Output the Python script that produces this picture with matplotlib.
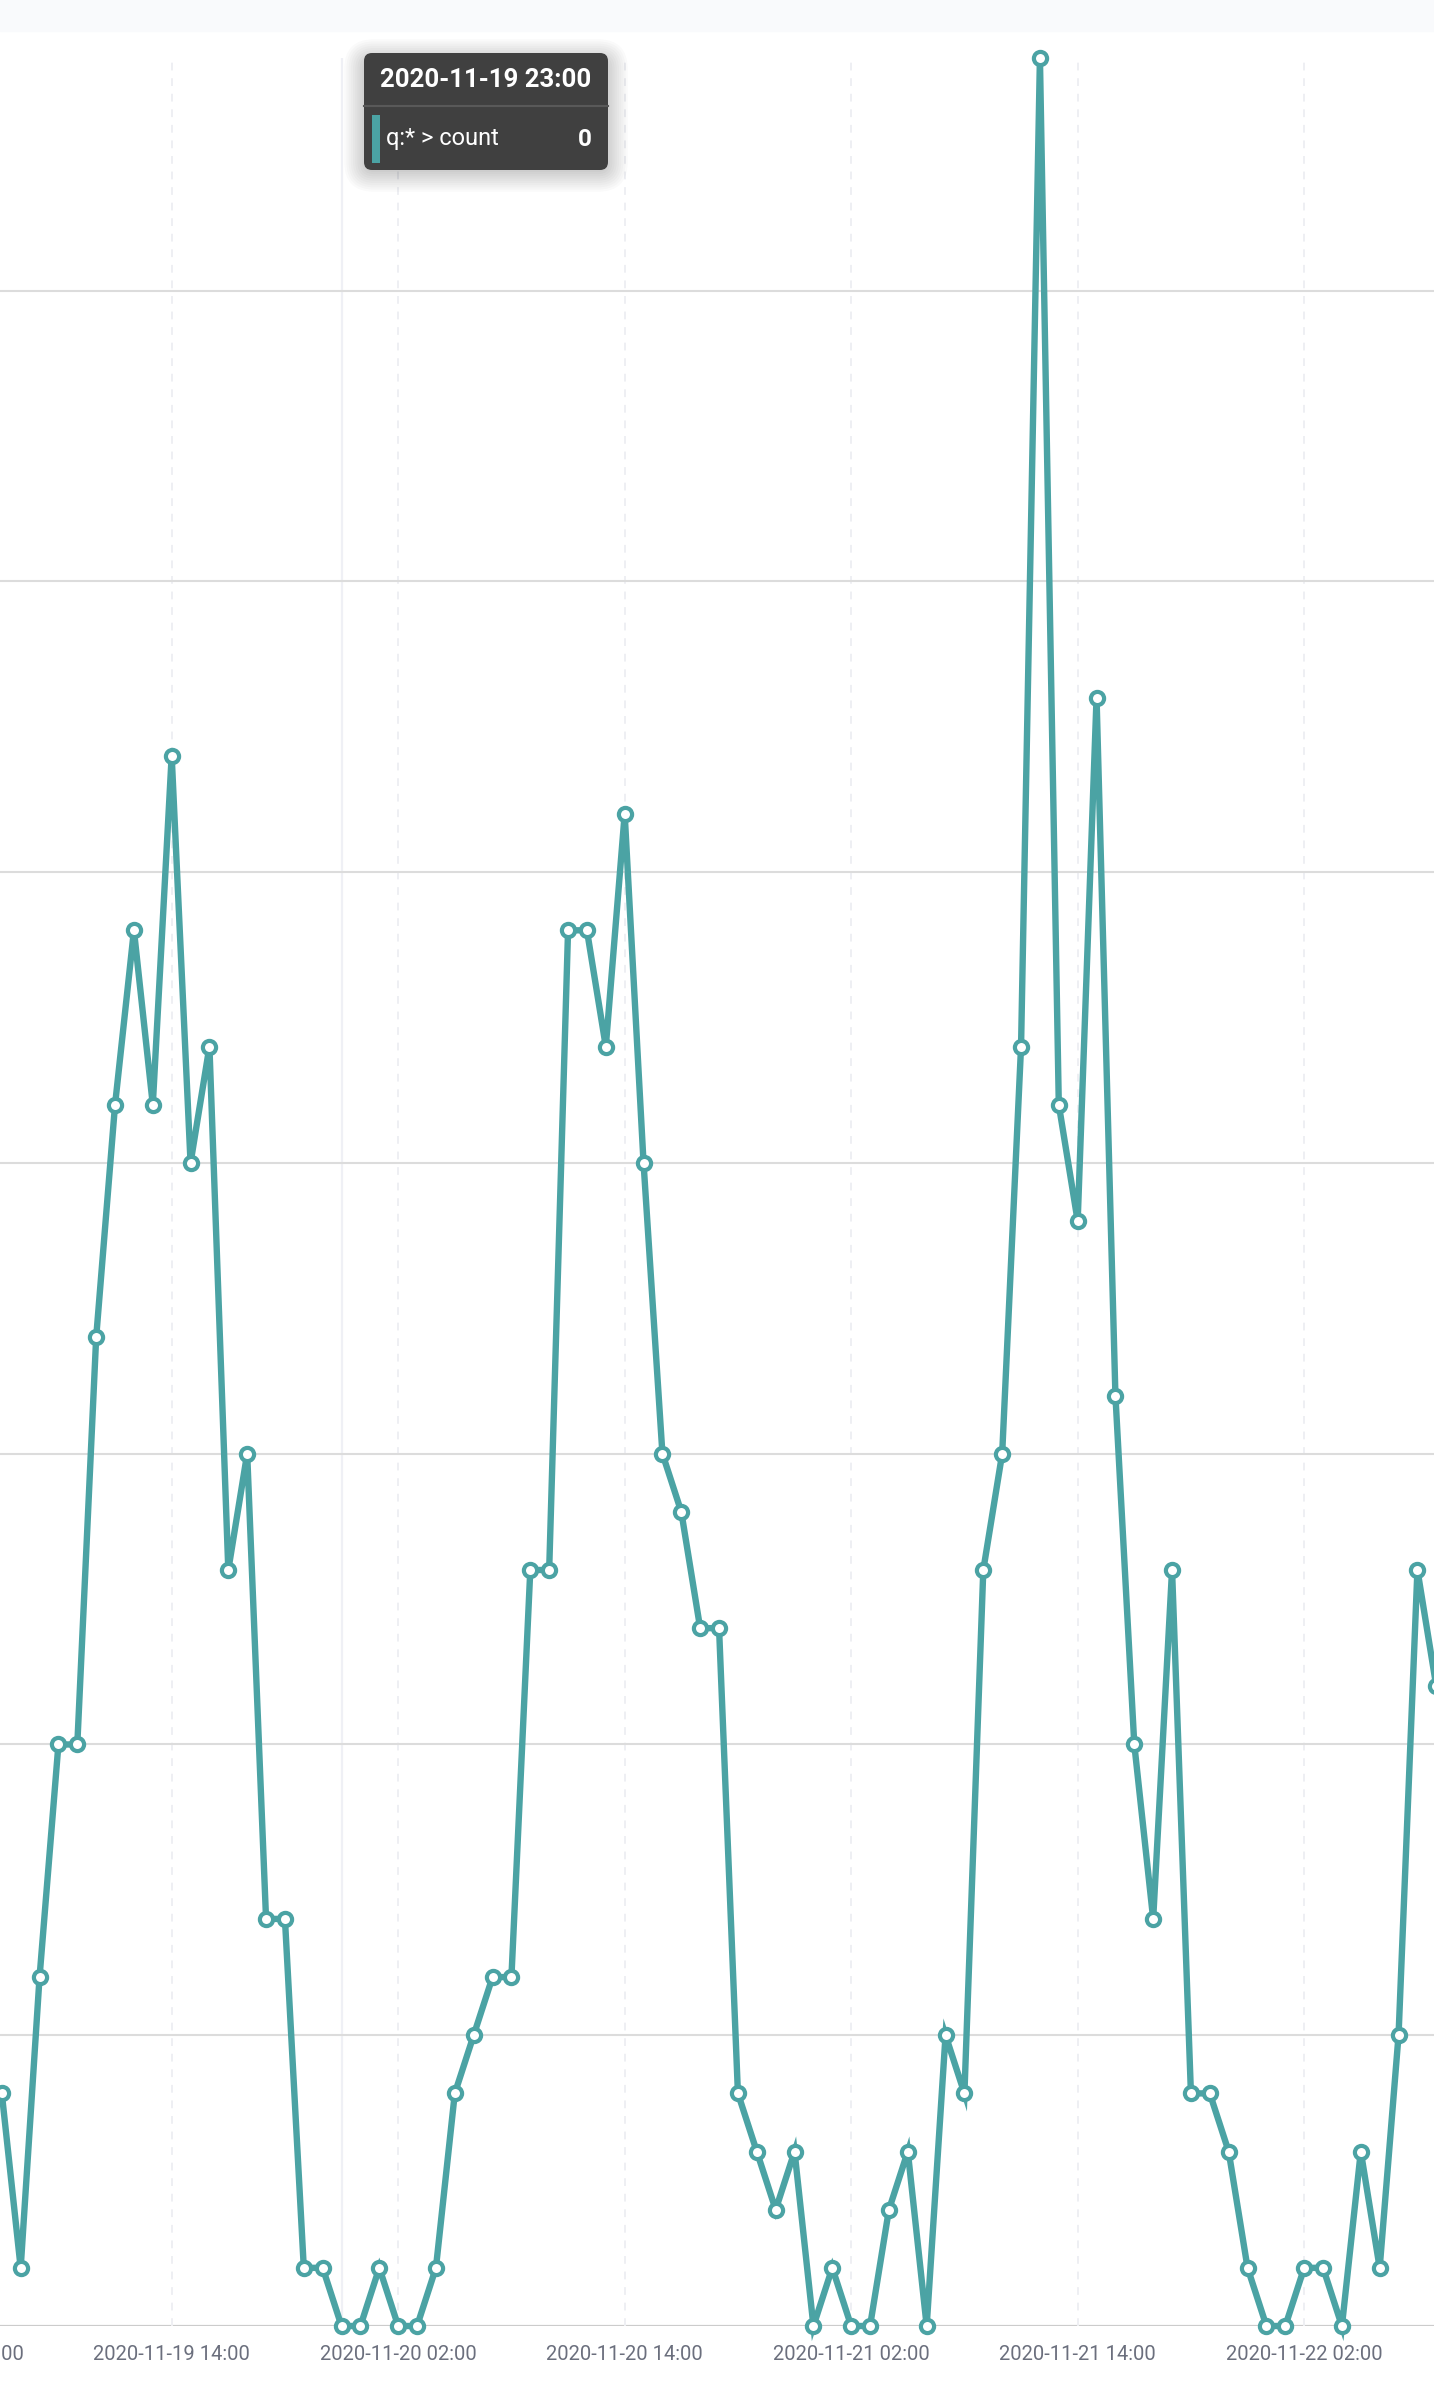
import pandas as pd
import matplotlib
matplotlib.use('Agg')
import matplotlib.pyplot as plt
import matplotlib.dates as mdates
from matplotlib.patches import FancyBboxPatch, Rectangle
from matplotlib.transforms import Affine2D

plt.rcParams['font.family'] = ['Roboto', 'DejaVu Sans']

# hourly counts, starting 2020-11-19 05:00
start = '2020-11-19 05:00'
counts = [4, 1, 6, 10, 10, 17, 21, 24, 21, 27, 20, 22, 13, 15, 7,
          7, 1, 1, 0, 0, 1, 0, 0, 1, 4, 5, 6, 6, 13, 13,
          24, 24, 22, 26, 20, 15, 14, 12, 12, 4, 3, 2, 3, 0, 1,
          0, 0, 2, 3, 0, 5, 4, 13, 15, 22, 39, 21, 19, 28, 16,
          10, 7, 13, 4, 4, 3, 1, 0, 0, 1, 1, 0, 3, 1, 5, 13, 11]
times = pd.date_range(start, periods=len(counts), freq='h')
series_name = 'q:* > count'
hover = 18  # index of hovered point

teal = '#4ba3a4'
W, H = 1434, 2396

fig = plt.figure(figsize=(W / 100, H / 100), dpi=100)
fig.patch.set_facecolor('white')

# pixel (from top-left) -> figure transform
px = Affine2D().scale(1 / W, -1 / H).translate(0, 1) + fig.transFigure

# plot area: one hour = 18.875 px, first point at x=1.8 px
hw = 18.875
left = 1.8 - 6 * hw
right = 1.8 + 80 * hw
ax = fig.add_axes([left / W, 1 - 2326 / H, (right - left) / W, (2326 - 58) / H])
ax.set_xlim(times[0] - pd.Timedelta(hours=6), times[0] + pd.Timedelta(hours=80))
ax.set_ylim(0, 39)
for s in ax.spines.values():
    s.set_visible(False)

ax.set_yticks(range(5, 40, 5))
ax.set_yticklabels([])
ax.tick_params(axis='y', length=0)
ax.grid(axis='y', color='#dcdcdc', lw=1.5, zorder=0)
ax.axhline(0, color='#cccccc', lw=1.6, zorder=1)

ax.xaxis.set_major_locator(mdates.HourLocator(byhour=[2, 14]))
ax.xaxis.set_major_formatter(mdates.DateFormatter('%Y-%m-%d %H:%M'))
ax.tick_params(axis='x', length=0, pad=13.5, labelsize=14.5, labelcolor='#6b6f7d')
ax.grid(axis='x', color='#eeeff3', lw=1.4, ls=(0, (4, 4)), zorder=0)

ax.axvline(times[hover], color='#eff0f5', lw=1.6, zorder=1)

ax.plot(times, counts, color=teal, lw=4.6, marker='o', ms=9.5, mfc='white',
        mec=teal, mew=3.0, solid_joinstyle='miter', clip_on=False, zorder=3)

# top band
fig.patches.append(Rectangle((0, 0), W, 31, transform=px, color='#f9fafc', zorder=5))

# tooltip
x0, y0, x1, y1 = 364, 53, 608, 170
for k in range(10):
    e = 2 + k * 2.2
    fig.patches.append(FancyBboxPatch((x0 - e + 2, y0 - e + 8), x1 - x0 + 2 * e - 4, y1 - y0 + 2 * e - 8,
                                      boxstyle='round,pad=0,rounding_size=%f' % (8 + e),
                                      transform=px, color='black', alpha=0.018, lw=0, zorder=6))
fig.patches.append(FancyBboxPatch((x0, y0), x1 - x0, y1 - y0, boxstyle='round,pad=0,rounding_size=8',
                                  transform=px, color='#404040', lw=0, zorder=7))
fig.lines.append(plt.Line2D([x0, x1], [106, 106], transform=px, color='#595959', lw=1.5, zorder=8))
fig.patches.append(Rectangle((372, 115), 8, 48, transform=px, color=teal, lw=0, zorder=8))
fig.text(486 / W, 1 - 80 / H, times[hover].strftime('%Y-%m-%d %H:%M'), color='white',
         fontsize=18.5, fontweight='bold', ha='center', va='center', zorder=9)
fig.text(386 / W, 1 - 139 / H, series_name, color='white', fontsize=17,
         ha='left', va='center', zorder=9)
fig.text(592 / W, 1 - 139 / H, str(counts[hover]), color='white', fontsize=17.5,
         fontweight='bold', ha='right', va='center', zorder=9)

fig.savefig('out.png', dpi=100)
